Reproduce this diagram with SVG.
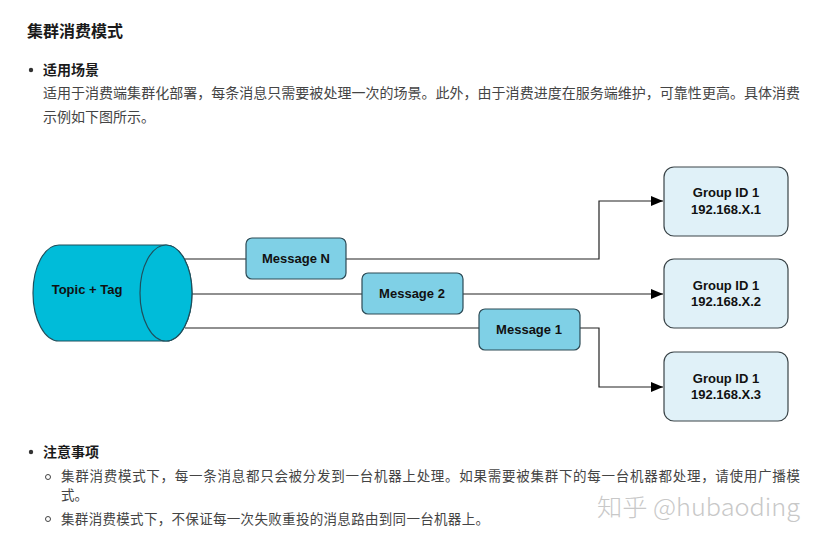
<svg xmlns="http://www.w3.org/2000/svg" width="822" height="543" viewBox="0 0 822 543">
<defs>
<style>
.zh{font-family:"Noto Sans CJK SC","Noto Sans",sans-serif;fill:#444}
.h{font-weight:bold;fill:#1a1a1a}
.lbl{font-family:"Liberation Sans",Arial,sans-serif;font-weight:bold;font-size:13px;fill:#111;text-anchor:middle}
.msg{fill:#7fd0e6;stroke:#2c4a55;stroke-width:1.2}
.grp{fill:#e0f1f8;stroke:#3a4448;stroke-width:1.2}
.con{fill:none;stroke:#222;stroke-width:1.2}
</style>
<marker id="arr" markerWidth="12" markerHeight="10" refX="12" refY="5" orient="auto" markerUnits="userSpaceOnUse">
<path d="M0,0 L12,5 L0,10 Z" fill="#000"/>
</marker>
</defs>
<rect width="822" height="543" fill="#fff"/>
<text class="zh h" x="27" y="37" font-size="16">集群消费模式</text>
<circle cx="31" cy="70" r="2.2" fill="#333"/>
<text class="zh h" x="43" y="75" font-size="14">适用场景</text>
<text class="zh" x="43" y="98" font-size="14" textLength="757" lengthAdjust="spacing">适用于消费端集群化部署，每条消息只需要被处理一次的场景。此外，由于消费进度在服务端维护，可靠性更高。具体消费</text>
<text class="zh" x="43" y="122" font-size="14">示例如下图所示。</text>

<g id="connectors">
<line class="con" x1="185" y1="259" x2="246" y2="259"/>
<polyline class="con" points="346,259 599,259 599,201 663,201" marker-end="url(#arr)"/>
<line class="con" x1="185" y1="294" x2="362" y2="294"/>
<line class="con" x1="463" y1="294" x2="663" y2="294" marker-end="url(#arr)"/>
<line class="con" x1="185" y1="328" x2="479" y2="328"/>
<polyline class="con" points="580,328 599,328 599,387 663,387" marker-end="url(#arr)"/>
</g>

<g id="topic">
<path d="M59,245 L166,245 A26,48 0 0 1 166,341 L59,341 A26,48 0 0 1 59,245 Z" fill="#00bcd9" stroke="#1f4f5c" stroke-width="1.2"/>
<ellipse cx="166" cy="293" rx="26" ry="48" fill="#00bcd9" stroke="#1f4f5c" stroke-width="1.2"/>
<text class="lbl" x="87" y="294" fill="#0f1b3a">Topic + Tag</text>
</g>

<g id="msgN"><rect class="msg" x="246" y="238" width="100" height="41" rx="6"/><text class="lbl" x="296" y="263">Message N</text></g>
<g id="msg2"><rect class="msg" x="362" y="273" width="101" height="41" rx="6"/><text class="lbl" x="412" y="298">Message 2</text></g>
<g id="msg1"><rect class="msg" x="479" y="309" width="101" height="41" rx="6"/><text class="lbl" x="529" y="334">Message 1</text></g>

<g id="g1"><rect class="grp" x="664" y="167" width="124" height="69" rx="10"/><text class="lbl" x="726" y="197">Group ID 1</text><text class="lbl" x="726" y="214">192.168.X.1</text></g>
<g id="g2"><rect class="grp" x="664" y="259" width="124" height="69" rx="10"/><text class="lbl" x="726" y="290">Group ID 1</text><text class="lbl" x="726" y="306">192.168.X.2</text></g>
<g id="g3"><rect class="grp" x="664" y="352" width="124" height="69" rx="10"/><text class="lbl" x="726" y="383">Group ID 1</text><text class="lbl" x="726" y="399">192.168.X.3</text></g>

<circle cx="31" cy="452" r="2.2" fill="#333"/>
<text class="zh h" x="43" y="457" font-size="14">注意事项</text>
<circle cx="48" cy="477" r="2.5" fill="none" stroke="#444" stroke-width="1"/>
<text class="zh" x="61" y="481" font-size="13.5" textLength="739" lengthAdjust="spacing">集群消费模式下，每一条消息都只会被分发到一台机器上处理。如果需要被集群下的每一台机器都处理，请使用广播模</text>
<text class="zh" x="61" y="500" font-size="13.5">式。</text>
<circle cx="48" cy="519" r="2.5" fill="none" stroke="#444" stroke-width="1"/>
<text class="zh" x="61" y="524" font-size="13.5" textLength="428" lengthAdjust="spacing">集群消费模式下，不保证每一次失败重投的消息路由到同一台机器上。</text>
<text x="597" y="516" font-family="Noto Sans CJK SC,Noto Sans,sans-serif" font-size="24" font-weight="300" fill="#c8c8c8" textLength="203" lengthAdjust="spacingAndGlyphs">知乎 @hubaoding</text>
</svg>
